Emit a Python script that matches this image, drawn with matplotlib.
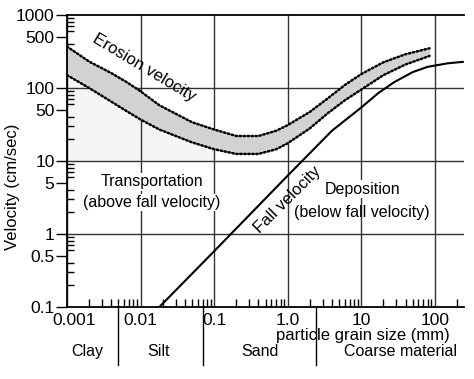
import numpy as np
import matplotlib
matplotlib.use("Agg")
import matplotlib.pyplot as plt
from matplotlib.ticker import FixedLocator, NullFormatter
import matplotlib.transforms as mtransforms

plt.rcParams['font.family'] = ['Liberation Sans', 'DejaVu Sans']

# grain size (mm) and erosion band limits (cm/sec)
ero_size = [0.001, 0.002, 0.004, 0.0065, 0.01, 0.018, 0.05, 0.1, 0.2, 0.4, 0.7, 1, 2, 3.5, 6, 10, 20, 40, 85]
ero_upper = [370, 230, 160, 120, 90, 58, 34, 27, 22, 22, 26, 31, 47, 72, 110, 155, 225, 290, 350]
ero_lower = [150, 100, 65, 48, 37, 27, 18, 14.5, 12.5, 12.5, 14.5, 17.5, 28, 45, 68, 95, 150, 210, 275]

# fall velocity
fall_size = [0.018, 0.1, 1, 4, 10, 17, 28, 50, 80, 150, 240]
fall_vel = [0.1, 0.58, 6.3, 26, 54, 85, 120, 165, 195, 218, 228]

xticks = [0.001, 0.01, 0.1, 1, 10, 100]
xticklabels = ["0.001", "0.01", "0.1", "1.0", "10", "100"]
yticks = [0.1, 0.5, 1, 5, 10, 50, 100, 500, 1000]
yticklabels = ["0.1", "0.5", "1", "5", "10", "50", "100", "500", "1000"]

# class boundaries and labels below the axis
class_bounds = [0.005, 0.07, 2.4]
class_names = ["Clay", "Silt", "Sand", "Coarse material"]
class_pos = [0.0019, 0.0175, 0.42, 34]

fig = plt.figure(figsize=(4.74, 3.79), dpi=100)
ax = fig.add_axes([0.1414, 0.190, 0.8376, 0.7704])
ax.set_xscale("log")
ax.set_yscale("log")
ax.set_xlim(0.001, 250)
ax.set_ylim(0.1, 1000)

# grid at decades only
for xv in xticks:
    ax.axvline(xv, color="#333333", lw=1.0, zorder=1)
for yv in [1, 10, 100]:
    ax.axhline(yv, color="#333333", lw=1.0, zorder=1)

# faint shading under the band on the left
sel = [i for i, s in enumerate(ero_size) if s <= 0.1]
ax.fill_between([ero_size[i] for i in sel], [ero_lower[i] for i in sel], 10,
                color="#f5f5f5", lw=0, zorder=0.5)

ax.fill_between(ero_size, ero_lower, ero_upper, color="#d2d2d2", lw=0, zorder=2)
ax.plot(ero_size, ero_upper, color="black", lw=1.8, ls=(0, (0.6, 1.0)),
        dash_capstyle="round", zorder=3)
ax.plot(ero_size, ero_lower, color="black", lw=1.8, ls=(0, (0.6, 1.0)),
        dash_capstyle="round", zorder=3)
ax.plot(fall_size, fall_vel, color="black", lw=1.5, zorder=3)

# ticks
ax.set_xticks(xticks)
ax.set_xticklabels(xticklabels)
ax.xaxis.set_minor_locator(FixedLocator([m * d for d in [0.001, 0.01, 0.1, 1, 10, 100] for m in range(2, 10)]))
ax.xaxis.set_minor_formatter(NullFormatter())
ax.tick_params(axis="x", which="major", length=0, pad=4, labelsize=12.5)
ax.tick_params(axis="x", which="minor", direction="in", length=6, width=1)

ax.set_yticks(yticks)
ax.set_yticklabels(yticklabels)
ax.yaxis.set_minor_locator(FixedLocator([m * d for d in [0.1, 1, 10, 100] for m in [2, 3, 4, 6, 7, 8, 9]]))
ax.yaxis.set_minor_formatter(NullFormatter())
ax.tick_params(axis="y", which="major", direction="out", length=8, width=1, pad=1, labelsize=12.5)
ax.tick_params(axis="y", which="minor", direction="in", length=5, width=1)

# shift first x label to the right
lbl = ax.get_xticklabels()[0]
lbl.set_transform(lbl.get_transform() + mtransforms.ScaledTranslation(7 / 100, 0, fig.dpi_scale_trans))

ax.spines["right"].set_visible(False)
for s in ["left", "bottom", "top"]:
    ax.spines[s].set_linewidth(1.3)

# annotations
ax.text(0.0112, 190, "Erosion velocity", rotation=-31, ha="center", va="center",
        fontsize=12, zorder=4)
ax.text(1.0, 2.9, "Fall velocity", rotation=45, ha="center", va="center",
        fontsize=12, zorder=4)
box = dict(facecolor="white", edgecolor="none", pad=1)
ax.text(0.0143, 5.2, "Transportation", ha="center", va="center", fontsize=11.5, bbox=box, zorder=4)
ax.text(0.0143, 2.7, "(above fall velocity)", ha="center", va="center", fontsize=11.5, bbox=box, zorder=4)
ax.text(10.3, 4.1, "Deposition", ha="center", va="center", fontsize=11.5, bbox=box, zorder=4)
ax.text(10.3, 2.0, "(below fall velocity)", ha="center", va="center", fontsize=11.5, zorder=4)

ax.set_ylabel("Velocity (cm/sec)", fontsize=12)
ax.yaxis.set_label_coords(-0.118, 0.41)

trans = mtransforms.blended_transform_factory(ax.transData, ax.transAxes)
for b in class_bounds:
    ax.plot([b, b], [0, -0.199], transform=trans, color="black", lw=1.0, clip_on=False)
for name, xp in zip(class_names, class_pos):
    ax.text(xp, -0.154, name, transform=trans, ha="center", va="center", fontsize=11.5)
ax.text(0.745, -0.099, "particle grain size (mm)", transform=ax.transAxes,
        ha="center", va="center", fontsize=12)

fig.savefig("out.png", dpi=100)
